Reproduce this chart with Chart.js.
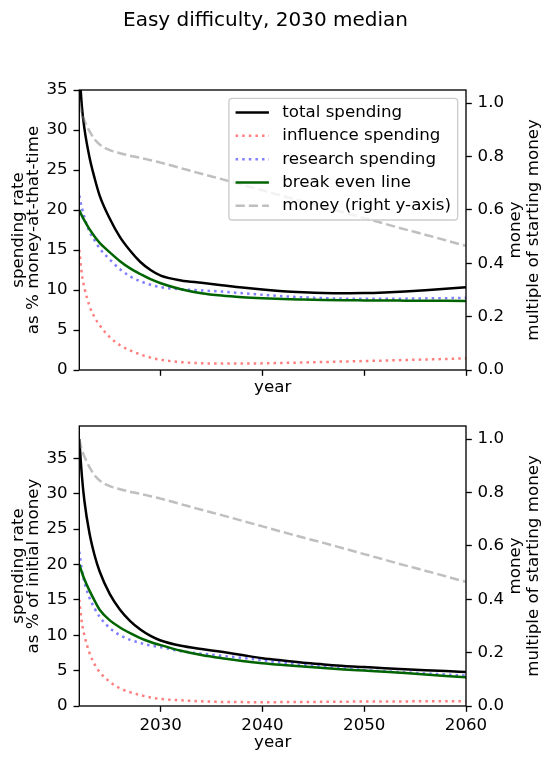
<!DOCTYPE html>
<html>
<head>
<meta charset="utf-8">
<script src="https://cdn.jsdelivr.net/npm/chart.js@4.4.1/dist/chart.umd.min.js"></script>
<style>
    body { margin: 0; background: #ffffff; }
    canvas { position: absolute; left: 0; }
    #graficoArriba { top: 0; }
    #graficoAbajo { top: 400px; }
</style>
</head>
<body>
<canvas id="graficoArriba" width="550" height="400"></canvas>
<canvas id="graficoAbajo" width="550" height="361"></canvas>
<script>
// Datos (años con decimales al principio porque la curva cae muy rapido)
var years = [2022, 2022.25, 2022.5, 2023, 2023.5, 2024, 2025, 2026, 2027, 2028, 2029, 2030,
    2032, 2034, 2036, 2038, 2040, 2042, 2044, 2046, 2048, 2050, 2052, 2054, 2056, 2058, 2060];

// Panel de arriba: % del dinero en ese momento
var total1 = [37.7, 33.0, 30.2, 26.6, 24.0, 21.8, 18.9, 16.6, 14.9, 13.5, 12.5, 11.8,
    11.2, 10.9, 10.6, 10.3, 10.05, 9.85, 9.72, 9.63, 9.6, 9.62, 9.7, 9.82, 9.97, 10.15, 10.35];
var influence1 = [15, 12.0, 10.3, 8.0, 6.6, 5.6, 4.1, 3.1, 2.45, 1.95, 1.55, 1.28,
    0.98, 0.85, 0.8, 0.8, 0.83, 0.88, 0.94, 1.0, 1.06, 1.12, 1.18, 1.25, 1.31, 1.38, 1.45];
var research1 = [21.8, 20.3, 19.1, 17.3, 16.2, 15.2, 13.8, 12.6, 11.7, 11.1, 10.65, 10.35,
    10.1, 9.95, 9.8, 9.6, 9.4, 9.22, 9.08, 8.98, 8.92, 8.9, 8.9, 8.92, 8.95, 8.98, 9.02];
var breakEven1 = [20, 19.3, 18.7, 17.6, 16.7, 15.9, 14.7, 13.6, 12.7, 12.0, 11.35, 10.85,
    10.1, 9.6, 9.3, 9.1, 8.96, 8.86, 8.8, 8.75, 8.72, 8.7, 8.68, 8.67, 8.66, 8.65, 8.64];

// Panel de abajo: % del dinero inicial
var total2 = [37.7, 32.6, 29.0, 24.4, 21.3, 19.0, 15.8, 13.6, 12.0, 10.8, 9.9, 9.25,
    8.5, 8.05, 7.65, 7.2, 6.75, 6.42, 6.12, 5.88, 5.66, 5.5, 5.33, 5.18, 5.05, 4.93, 4.82];
var influence2 = [15, 11.8, 10.0, 7.5, 5.9, 4.8, 3.4, 2.5, 1.95, 1.54, 1.21, 0.99,
    0.8, 0.66, 0.58, 0.55, 0.54, 0.55, 0.57, 0.59, 0.61, 0.63, 0.64, 0.65, 0.66, 0.67, 0.68];
var research2 = [21.8, 19.3, 17.5, 15.3, 13.8, 12.6, 11.0, 10.0, 9.35, 8.9, 8.55, 8.3,
    7.75, 7.4, 7.1, 6.8, 6.45, 6.1, 5.8, 5.55, 5.3, 5.1, 4.9, 4.75, 4.6, 4.45, 4.3];
var breakEven2 = [20, 18.9, 17.9, 16.3, 14.9, 13.6, 12.1, 11.1, 10.3, 9.6, 9.05, 8.6,
    7.8, 7.2, 6.75, 6.37, 6.05, 5.8, 5.58, 5.37, 5.17, 5.0, 4.83, 4.65, 4.45, 4.25, 4.05];

// Dinero (eje derecho), igual en los dos paneles
var money = [1.0, 0.96, 0.935, 0.895, 0.865, 0.845, 0.824, 0.812, 0.803, 0.795, 0.786, 0.777,
    0.756, 0.735, 0.715, 0.694, 0.673, 0.652, 0.631, 0.611, 0.59, 0.569, 0.548, 0.527, 0.507, 0.486, 0.465];

var seriesLabels = ['total spending', 'influence spending', 'research spending', 'break even line', 'money (right y-axis)'];
var yearTicks = [2030, 2040, 2050, 2060];
var leftTicks = [0, 5, 10, 15, 20, 25, 30, 35];
var rightTicks = [0, 0.2, 0.4, 0.6, 0.8, 1.0];

var FUENTE = '"DejaVu Sans", sans-serif';
Chart.defaults.font.family = FUENTE;
Chart.defaults.font.size = 16.67;
Chart.defaults.color = '#000000';
Chart.defaults.animation = false;

// convierte una serie en puntos {x, y}
function puntos(serie) {
    return years.map(function (x, i) { return { x: x, y: serie[i] }; });
}

function linea(label, serie, color, dash, eje, orden) {
    return {
        label: label,
        data: puntos(serie),
        borderColor: color,
        borderDash: dash,
        borderWidth: 2.5,
        borderCapStyle: 'butt',
        pointRadius: 0,
        fill: false,
        cubicInterpolationMode: 'monotone',
        yAxisID: eje,
        order: orden
    };
}

function hacerDatasets(total, influence, research, breakEven) {
    return [
        linea(seriesLabels[0], total, '#000000', [], 'y', 5),
        linea(seriesLabels[1], influence, 'rgba(255,0,0,0.5)', [2.5, 4.1], 'y', 4),
        linea(seriesLabels[2], research, 'rgba(0,0,255,0.5)', [2.5, 4.1], 'y', 3),
        linea(seriesLabels[3], breakEven, '#006400', [], 'y', 2),
        linea(seriesLabels[4], money, 'rgba(128,128,128,0.5)', [9.25, 4], 'y2', 1)
    ];
}

var marcas = { display: true, drawOnChartArea: false, drawTicks: true, tickLength: 5.8, tickWidth: 1.33, tickColor: '#000000' };

function hacerEscalas(leftMax, conAnios, altoX, padAnio) {
    return {
        x: {
            type: 'linear', position: 'bottom', min: 2022, max: 2060,
            afterBuildTicks: function (s) { s.ticks = yearTicks.map(function (v) { return { value: v }; }); },
            afterFit: function (s) { s.height = altoX; },
            grid: marcas, border: { display: false },
            ticks: { display: conAnios, padding: 4, maxRotation: 0, callback: function (v) { return String(v); } },
            title: { display: true, text: 'year', padding: { top: 0, bottom: padAnio } }
        },
        y: {
            position: 'left', min: 0, max: leftMax,
            afterBuildTicks: function (s) { s.ticks = leftTicks.map(function (v) { return { value: v }; }); },
            afterFit: function (s) { s.width = 79.3; },
            grid: marcas, border: { display: false },
            ticks: { padding: 5.8 }
        },
        y2: {
            position: 'right', min: 0, max: 1.049,
            afterBuildTicks: function (s) { s.ticks = rightTicks.map(function (v) { return { value: v }; }); },
            afterFit: function (s) { s.width = 84; },
            grid: marcas, border: { display: false },
            ticks: { padding: 5.8, callback: function (v) { return v.toFixed(1); } }
        }
    };
}

// texto girado 90 grados (se lee de abajo hacia arriba)
function textoGirado(ctx, texto, x, y) {
    ctx.save();
    ctx.translate(x, y);
    ctx.rotate(-Math.PI / 2);
    ctx.fillText(texto, 0, 0);
    ctx.restore();
}

// marco, titulos de los ejes y, titulo general y leyenda
var extras = {
    id: 'extras',
    afterDraw: function (chart) {
        var ctx = chart.ctx;
        var area = chart.chartArea;
        var op = chart.options.plugins.extras;
        ctx.save();
        ctx.strokeStyle = '#000000';
        ctx.lineWidth = 1.33;
        ctx.setLineDash([]);
        ctx.strokeRect(area.left, area.top, area.right - area.left, area.bottom - area.top);

        ctx.fillStyle = '#000000';
        ctx.font = '16.67px ' + FUENTE;
        ctx.textAlign = 'center';
        ctx.textBaseline = 'alphabetic';
        var cy = (area.top + area.bottom) / 2;
        textoGirado(ctx, 'spending rate', 22.6, cy);
        textoGirado(ctx, op.leftLine, 37.8, cy);
        textoGirado(ctx, 'money', 520, cy);
        textoGirado(ctx, 'multiple of starting money', 537.7, cy);

        if (op.titulo) {
            ctx.font = '20px ' + FUENTE;
            ctx.fillText(op.titulo, 265.5, 26);
        }

        if (op.leyenda) {
            var fs = 16.67;
            ctx.font = fs + 'px ' + FUENTE;
            var sets = chart.data.datasets;
            var anchoTexto = 0;
            sets.forEach(function (d) { anchoTexto = Math.max(anchoTexto, ctx.measureText(d.label).width); });
            var pad = 0.4 * fs, largo = 2 * fs, sep = 0.8 * fs, altoFila = 0.9 * fs, espacio = 0.5 * fs;
            var w = pad * 2 + largo + sep + anchoTexto;
            var h = pad * 2 + sets.length * altoFila + (sets.length - 1) * espacio;
            var x0 = area.right - 0.5 * fs - w;
            var y0 = area.top + 0.5 * fs;
            ctx.beginPath();
            ctx.roundRect(x0, y0, w, h, 3.3);
            ctx.fillStyle = 'rgba(255,255,255,0.8)';
            ctx.fill();
            ctx.strokeStyle = '#cccccc';
            ctx.lineWidth = 1.33;
            ctx.stroke();
            sets.forEach(function (d, i) {
                var yc = y0 + pad + altoFila / 2 + i * (altoFila + espacio);
                ctx.beginPath();
                ctx.setLineDash(d.borderDash);
                ctx.lineCap = 'butt';
                ctx.strokeStyle = d.borderColor;
                ctx.lineWidth = d.borderWidth;
                ctx.moveTo(x0 + pad, yc);
                ctx.lineTo(x0 + pad + largo, yc);
                ctx.stroke();
                ctx.setLineDash([]);
                ctx.fillStyle = '#000000';
                ctx.textAlign = 'left';
                ctx.textBaseline = 'middle';
                ctx.fillText(d.label, x0 + pad + largo + sep, yc);
            });
        }
        ctx.restore();
    }
};

new Chart(document.getElementById('graficoArriba'), {
    type: 'line',
    data: { datasets: hacerDatasets(total1, influence1, research1, breakEven1) },
    options: {
        responsive: false,
        layout: { padding: { top: 90, left: 0, right: 0, bottom: 0 } },
        scales: hacerEscalas(35, false, 30, 2),
        plugins: {
            legend: { display: false },
            tooltip: { enabled: false },
            extras: { leftLine: 'as % money-at-that-time', titulo: 'Easy difficulty, 2030 median', leyenda: true }
        }
    },
    plugins: [extras]
});

new Chart(document.getElementById('graficoAbajo'), {
    type: 'line',
    data: { datasets: hacerDatasets(total2, influence2, research2, breakEven2) },
    options: {
        responsive: false,
        layout: { padding: { top: 26, left: 0, right: 0, bottom: 0 } },
        scales: hacerEscalas(39.56, true, 55, 8),
        plugins: {
            legend: { display: false },
            tooltip: { enabled: false },
            extras: { leftLine: 'as % of initial money', titulo: '', leyenda: false }
        }
    },
    plugins: [extras]
});
</script>
</body>
</html>
